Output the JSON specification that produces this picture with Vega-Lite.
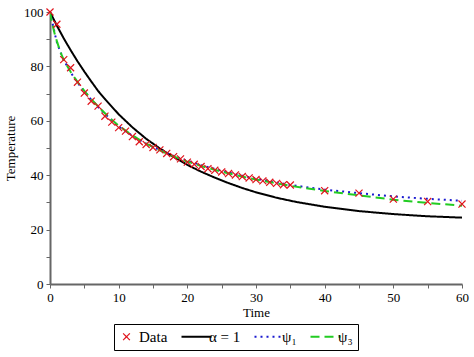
{
  "$schema": "https://vega.github.io/schema/vega-lite/v6.json",
  "width": 412,
  "height": 272,
  "autosize": "none",
  "padding": {"left": 50, "top": 12, "right": 12, "bottom": 73},
  "background": "white",
  "config": {
    "view": {"stroke": null},
    "font": "Liberation Serif",
    "axis": {
      "grid": false,
      "domainColor": "#666666",
      "domainWidth": 2,
      "tickColor": "#666666",
      "tickWidth": 1,
      "tickSize": 4,
      "labelFont": "Liberation Serif",
      "labelFontSize": 13,
      "labelColor": "black",
      "titleFont": "Liberation Serif",
      "titleFontSize": 13,
      "titleFontWeight": "normal",
      "titleColor": "black",
      "labelPadding": 3
    }
  },
  "datasets": {
    "pts": [
      {"series": "Data", "t": 0, "T": 100},
      {"series": "Data", "t": 1, "T": 95.5},
      {"series": "Data", "t": 2, "T": 82.5},
      {"series": "Data", "t": 3, "T": 79.5},
      {"series": "Data", "t": 4, "T": 74.2},
      {"series": "Data", "t": 5, "T": 70.2},
      {"series": "Data", "t": 6, "T": 67.2},
      {"series": "Data", "t": 7, "T": 65.4},
      {"series": "Data", "t": 8, "T": 61.7},
      {"series": "Data", "t": 9, "T": 59.5},
      {"series": "Data", "t": 10, "T": 57.5},
      {"series": "Data", "t": 11, "T": 56.2},
      {"series": "Data", "t": 12, "T": 54.2},
      {"series": "Data", "t": 13, "T": 52.3},
      {"series": "Data", "t": 14, "T": 51.3},
      {"series": "Data", "t": 15, "T": 50.2},
      {"series": "Data", "t": 16, "T": 49.3},
      {"series": "Data", "t": 17, "T": 48.0},
      {"series": "Data", "t": 18, "T": 46.8},
      {"series": "Data", "t": 19, "T": 46.0},
      {"series": "Data", "t": 20, "T": 44.8},
      {"series": "Data", "t": 21, "T": 44.0},
      {"series": "Data", "t": 22, "T": 43.2},
      {"series": "Data", "t": 23, "T": 42.4},
      {"series": "Data", "t": 24, "T": 41.8},
      {"series": "Data", "t": 25, "T": 41.2},
      {"series": "Data", "t": 26, "T": 40.6},
      {"series": "Data", "t": 27, "T": 40.1},
      {"series": "Data", "t": 28, "T": 39.5},
      {"series": "Data", "t": 29, "T": 39.0},
      {"series": "Data", "t": 30, "T": 38.4},
      {"series": "Data", "t": 31, "T": 37.9},
      {"series": "Data", "t": 32, "T": 37.4},
      {"series": "Data", "t": 33, "T": 37.0},
      {"series": "Data", "t": 34, "T": 36.5},
      {"series": "Data", "t": 35, "T": 36.4},
      {"series": "Data", "t": 40, "T": 34.3},
      {"series": "Data", "t": 45, "T": 33.4},
      {"series": "Data", "t": 50, "T": 31.2},
      {"series": "Data", "t": 55, "T": 30.3},
      {"series": "Data", "t": 60, "T": 29.4}
    ],
    "curves": [
      {"series": "α = 1", "t": 0, "T": 100},
      {"series": "α = 1", "t": 1, "T": 95.0},
      {"series": "α = 1", "t": 2, "T": 90.3},
      {"series": "α = 1", "t": 3, "T": 86.0},
      {"series": "α = 1", "t": 4, "T": 81.9},
      {"series": "α = 1", "t": 5, "T": 78.1},
      {"series": "α = 1", "t": 6, "T": 74.5},
      {"series": "α = 1", "t": 7, "T": 71.0},
      {"series": "α = 1", "t": 8, "T": 68.0},
      {"series": "α = 1", "t": 10, "T": 62.4},
      {"series": "α = 1", "t": 12, "T": 57.6},
      {"series": "α = 1", "t": 14, "T": 53.4},
      {"series": "α = 1", "t": 16, "T": 49.8},
      {"series": "α = 1", "t": 18, "T": 46.7},
      {"series": "α = 1", "t": 20, "T": 43.8},
      {"series": "α = 1", "t": 22, "T": 41.3},
      {"series": "α = 1", "t": 24, "T": 39.1},
      {"series": "α = 1", "t": 26, "T": 37.1},
      {"series": "α = 1", "t": 28, "T": 35.3},
      {"series": "α = 1", "t": 30, "T": 33.7},
      {"series": "α = 1", "t": 33, "T": 31.7},
      {"series": "α = 1", "t": 36, "T": 30.1},
      {"series": "α = 1", "t": 40, "T": 28.4},
      {"series": "α = 1", "t": 45, "T": 26.8},
      {"series": "α = 1", "t": 50, "T": 25.7},
      {"series": "α = 1", "t": 55, "T": 24.9},
      {"series": "α = 1", "t": 60, "T": 24.4},
      {"series": "ψ₁", "t": 0, "T": 100},
      {"series": "ψ₁", "t": 0.1, "T": 98.8},
      {"series": "ψ₁", "t": 0.25, "T": 97.2},
      {"series": "ψ₁", "t": 0.5, "T": 94.4},
      {"series": "ψ₁", "t": 0.75, "T": 91.5},
      {"series": "ψ₁", "t": 1, "T": 88.9},
      {"series": "ψ₁", "t": 1.5, "T": 85.4},
      {"series": "ψ₁", "t": 2, "T": 82.4},
      {"series": "ψ₁", "t": 3, "T": 77.8},
      {"series": "ψ₁", "t": 4, "T": 74.1},
      {"series": "ψ₁", "t": 5, "T": 70.8},
      {"series": "ψ₁", "t": 6, "T": 67.8},
      {"series": "ψ₁", "t": 7, "T": 65.1},
      {"series": "ψ₁", "t": 8, "T": 62.6},
      {"series": "ψ₁", "t": 9, "T": 60.2},
      {"series": "ψ₁", "t": 10, "T": 57.9},
      {"series": "ψ₁", "t": 12, "T": 54.5},
      {"series": "ψ₁", "t": 14, "T": 51.6},
      {"series": "ψ₁", "t": 16, "T": 49.2},
      {"series": "ψ₁", "t": 18, "T": 47.1},
      {"series": "ψ₁", "t": 20, "T": 45.3},
      {"series": "ψ₁", "t": 22, "T": 43.7},
      {"series": "ψ₁", "t": 25, "T": 41.6},
      {"series": "ψ₁", "t": 28, "T": 39.8},
      {"series": "ψ₁", "t": 30, "T": 38.7},
      {"series": "ψ₁", "t": 35, "T": 36.4},
      {"series": "ψ₁", "t": 40, "T": 34.7},
      {"series": "ψ₁", "t": 45, "T": 33.4},
      {"series": "ψ₁", "t": 50, "T": 32.2},
      {"series": "ψ₁", "t": 55, "T": 31.3},
      {"series": "ψ₁", "t": 60, "T": 30.6},
      {"series": "ψ₃", "t": 0, "T": 100},
      {"series": "ψ₃", "t": 0.1, "T": 98.5},
      {"series": "ψ₃", "t": 0.25, "T": 96.8},
      {"series": "ψ₃", "t": 0.5, "T": 93.8},
      {"series": "ψ₃", "t": 0.75, "T": 91.3},
      {"series": "ψ₃", "t": 1, "T": 89.3},
      {"series": "ψ₃", "t": 1.5, "T": 85.4},
      {"series": "ψ₃", "t": 2, "T": 82.4},
      {"series": "ψ₃", "t": 3, "T": 78.0},
      {"series": "ψ₃", "t": 4, "T": 74.3},
      {"series": "ψ₃", "t": 5, "T": 71.0},
      {"series": "ψ₃", "t": 6, "T": 68.0},
      {"series": "ψ₃", "t": 7, "T": 65.3},
      {"series": "ψ₃", "t": 8, "T": 62.8},
      {"series": "ψ₃", "t": 9, "T": 60.4},
      {"series": "ψ₃", "t": 10, "T": 58.2},
      {"series": "ψ₃", "t": 12, "T": 54.6},
      {"series": "ψ₃", "t": 14, "T": 51.6},
      {"series": "ψ₃", "t": 16, "T": 49.1},
      {"series": "ψ₃", "t": 18, "T": 46.9},
      {"series": "ψ₃", "t": 20, "T": 45.0},
      {"series": "ψ₃", "t": 22, "T": 43.4},
      {"series": "ψ₃", "t": 25, "T": 41.3},
      {"series": "ψ₃", "t": 28, "T": 39.5},
      {"series": "ψ₃", "t": 30, "T": 38.4},
      {"series": "ψ₃", "t": 35, "T": 36.1},
      {"series": "ψ₃", "t": 40, "T": 34.2},
      {"series": "ψ₃", "t": 45, "T": 32.6},
      {"series": "ψ₃", "t": 50, "T": 31.0},
      {"series": "ψ₃", "t": 55, "T": 29.8},
      {"series": "ψ₃", "t": 60, "T": 28.8}
    ]
  },
  "encoding": {
    "x": {
      "field": "t", "type": "quantitative",
      "scale": {"domain": [0, 60], "nice": false, "zero": true},
      "axis": {"title": "Time", "values": [0,5,10,15,20,25,30,35,40,45,50,55,60], "labelExpr": "datum.value % 10 === 0 ? datum.label : ''", "titlePadding": 2, "labelFlush": false}
    },
    "y": {
      "field": "T", "type": "quantitative",
      "scale": {"domain": [0, 100], "nice": false},
      "axis": {"title": "Temperature", "values": [0,10,20,30,40,50,60,70,80,90,100], "labelExpr": "datum.value % 20 === 0 ? datum.label : ''", "titlePadding": 6, "labelFlush": false}
    },
    "color": {
      "field": "series", "type": "nominal",
      "scale": {"domain": ["Data", "α = 1", "ψ₁", "ψ₃"], "range": ["#e0141c", "#000000", "#1a1ad0", "#22cc22"]},
      "legend": {
        "title": null,
        "orient": "none",
        "legendX": 64,
        "legendY": 312,
        "direction": "horizontal",
        "strokeColor": "black",
        "padding": 5,
        "labelFont": "Liberation Serif",
        "labelFontSize": 15,
        "labelColor": "black",
        "labelOffset": 5,
        "columnPadding": 9,
        "symbolType": "stroke",
        "symbolSize": 900,
        "symbolStrokeWidth": 2,
        "encode": {
          "symbols": {
            "update": {
              "shape": {"signal": "datum.value === 'Data' ? 'M-1,-1L1,1M-1,1L1,-1' : 'stroke'"},
              "size": {"signal": "datum.value === 'Data' ? 45 : 900"},
              "strokeWidth": {"signal": "datum.value === 'Data' ? 1.2 : 2"},
              "strokeDash": {"signal": "datum.value === 'ψ₁' ? [2, 4] : datum.value === 'ψ₃' ? [9, 5] : [1, 0]"},
              "fill": {"value": "transparent"},
              "opacity": {"value": 1}
            }
          }
        }
      }
    }
  },
  "layer": [
    {
      "data": {"name": "curves"},
      "mark": {"type": "line", "strokeWidth": 2, "clip": true},
      "encoding": {
        "strokeDash": {
          "field": "series", "type": "nominal",
          "scale": {"domain": ["α = 1", "ψ₁", "ψ₃"], "range": [[1, 0], [2, 4], [9, 5]]},
          "legend": null
        }
      }
    },
    {
      "data": {"name": "pts"},
      "mark": {"type": "point", "shape": "M-1,-1L1,1M-1,1L1,-1", "filled": false, "size": 50, "strokeWidth": 1.2, "opacity": 1}
    }
  ]
}
